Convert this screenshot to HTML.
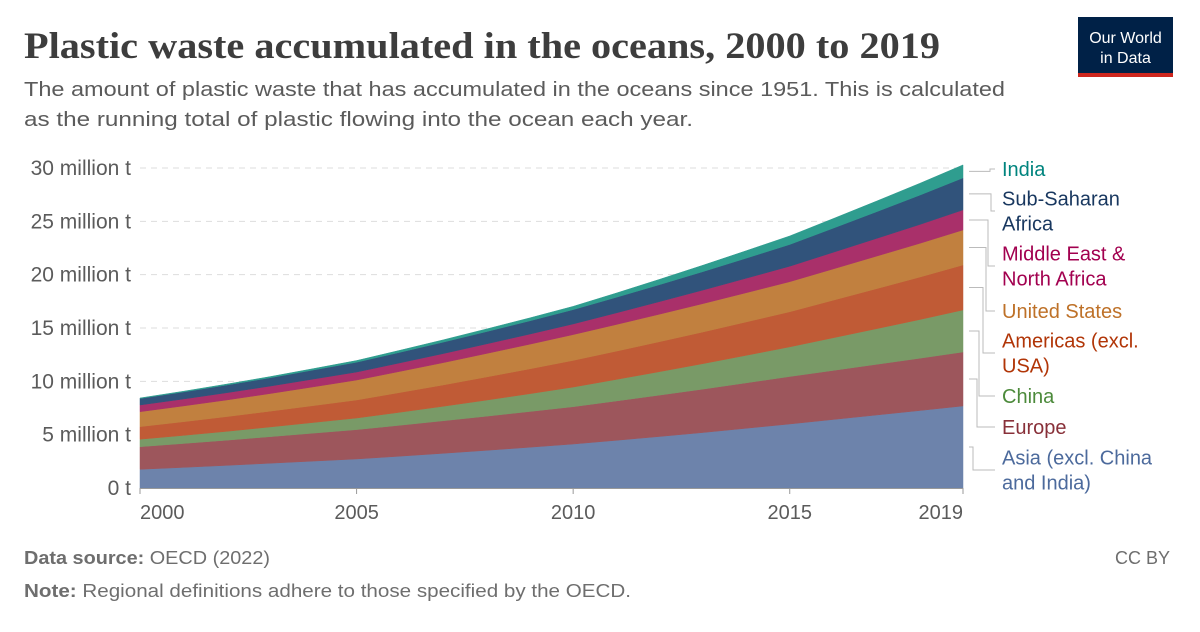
<!DOCTYPE html>
<html><head><meta charset="utf-8"><style>
body{margin:0;background:#fff;width:1200px;height:627px;overflow:hidden;font-family:"Liberation Sans",sans-serif}
</style></head><body>
<svg width="1200" height="627" xmlns="http://www.w3.org/2000/svg">
<text x="24" y="58" font-family="Liberation Serif,serif" font-size="37" font-weight="bold" fill="#3d3d3d" textLength="916" lengthAdjust="spacingAndGlyphs">Plastic waste accumulated in the oceans, 2000 to 2019</text>
<g>
<rect x="1078" y="17" width="95" height="60" fill="#002147"/>
<rect x="1078" y="73" width="95" height="4" fill="#ce261e"/>
<text x="1125.5" y="43" text-anchor="middle" font-size="16" fill="#fff">Our World</text>
<text x="1125.5" y="63" text-anchor="middle" font-size="16" fill="#fff">in Data</text>
</g>
<text x="24" y="96" font-size="20" fill="#5b5b5b" textLength="981" lengthAdjust="spacingAndGlyphs">The amount of plastic waste that has accumulated in the oceans since 1951. This is calculated</text>
<text x="24" y="126" font-size="20" fill="#5b5b5b" textLength="669" lengthAdjust="spacingAndGlyphs">as the running total of plastic flowing into the ocean each year.</text>
<g id="grid"></g><g id="areas"></g><g id="axes"></g><g id="legend"></g>
<text x="24" y="564" font-size="18" fill="#6e6e6e" textLength="246" lengthAdjust="spacingAndGlyphs"><tspan font-weight="bold">Data source:</tspan> OECD (2022)</text>
<text x="1170" y="564" text-anchor="end" font-size="18" fill="#6e6e6e">CC BY</text>
<text x="24" y="597" font-size="18" fill="#6e6e6e" textLength="607" lengthAdjust="spacingAndGlyphs"><tspan font-weight="bold">Note:</tspan> Regional definitions adhere to those specified by the OECD.</text>
</svg>
<script>
const years=[2000,2001,2002,2003,2004,2005,2006,2007,2008,2009,2010,2011,2012,2013,2014,2015,2016,2017,2018,2019];
const asia=[1.75,1.93,2.12,2.32,2.52,2.72,2.98,3.25,3.53,3.82,4.12,4.47,4.83,5.2,5.6,6.0,6.42,6.84,7.26,7.69];
const europe=[2.12,2.24,2.36,2.49,2.62,2.75,2.9,3.05,3.2,3.35,3.5,3.69,3.88,4.07,4.26,4.45,4.6,4.75,4.9,5.06];
const china=[0.70,0.76,0.83,0.91,1.0,1.09,1.22,1.36,1.51,1.67,1.84,2.02,2.2,2.39,2.58,2.78,3.06,3.34,3.63,3.94];
const americas=[1.18,1.28,1.38,1.48,1.58,1.69,1.85,2.0,2.17,2.33,2.5,2.65,2.81,2.97,3.13,3.29,3.52,3.75,3.98,4.22];
const usa=[1.40,1.48,1.56,1.65,1.76,1.87,1.98,2.09,2.2,2.31,2.42,2.5,2.58,2.66,2.74,2.82,2.93,3.05,3.16,3.28];
const mena=[0.63,0.65,0.68,0.70,0.73,0.75,0.8,0.85,0.9,0.95,1.0,1.09,1.18,1.27,1.36,1.45,1.56,1.66,1.77,1.88];
const ssa=[0.61,0.66,0.72,0.78,0.85,0.92,0.99,1.07,1.15,1.24,1.34,1.46,1.59,1.73,1.88,2.04,2.26,2.5,2.75,3.0];
const india=[0.05,0.07,0.09,0.11,0.13,0.16,0.19,0.22,0.25,0.28,0.31,0.4,0.5,0.6,0.7,0.8,0.9,1.0,1.11,1.22];
const yTicks=[0,5,10,15,20,25,30];
const yTickLabels=["0 t","5 million t","10 million t","15 million t","20 million t","25 million t","30 million t"];
const xTicks=[2000,2005,2010,2015,2019];
const NS="http://www.w3.org/2000/svg";
const x=v=>140+(v-2000)/19*823;
const y=v=>488-v*320/30;
function mk(tag,at,parent){const e=document.createElementNS(NS,tag);for(const k in at)e.setAttribute(k,at[k]);document.getElementById(parent).appendChild(e);return e;}
yTicks.forEach((t,i)=>{
 if(t>0){const l=mk('line',{x1:140,x2:963,y1:y(t),y2:y(t),stroke:'#ddd','stroke-dasharray':'6,5'},'grid');
 
 }
 const tx=mk('text',{x:131,y:y(t)+7,'text-anchor':'end','font-size':21,fill:'#5b5b5b'},'axes');tx.textContent=yTickLabels[i];
 
 
});
const series=[
 {n:'asia',d:asia,c:'#6d83ab',lc:'#4c6a9c',lab:['Asia (excl. China','and India)'],ly:470,ex:973},
 {n:'europe',d:europe,c:'#9d565c',lc:'#883039',lab:['Europe'],ly:427,ex:977},
 {n:'china',d:china,c:'#799a67',lc:'#4c8a3b',lab:['China'],ly:396,ex:979},
 {n:'americas',d:americas,c:'#c05b36',lc:'#b13507',lab:['Americas (excl.','USA)'],ly:353,ex:983},
 {n:'united-states',d:usa,c:'#c1803f',lc:'#be7128',lab:['United States'],ly:311,ex:986},
 {n:'mena',d:mena,c:'#a9306a',lc:'#a2004f',lab:['Middle East &','North Africa'],ly:266,ex:988},
 {n:'sub-saharan-africa',d:ssa,c:'#31537b',lc:'#18375f',lab:['Sub-Saharan','Africa'],ly:211,ex:991},
 {n:'india',d:india,c:'#2f9d8f',lc:'#00847e',lab:['India'],ly:169,ex:990}];
let base=years.map(()=>0);
series.forEach(s=>{
 const top=base.map((b,i)=>b+s.d[i]);
 let p='M'+years.map((yr,i)=>x(yr)+','+y(top[i])).join('L');
 for(let i=years.length-1;i>=0;i--)p+='L'+x(years[i])+','+y(base[i]);
 const a=mk('path',{d:p+'Z',fill:s.c,stroke:s.c,'stroke-width':0.5},'areas');
 
 
 const li=years.length-1, sy=(y(top[li])+y(base[li]))/2;
 const c=mk('polyline',{points:`969,${sy} ${s.ex},${sy} ${s.ex},${s.ly} 995,${s.ly}`,fill:'none',stroke:'#bbb','stroke-width':1},'legend');
 
 
 const n=s.lab.length, y0=s.ly-(n-1)*12.5+7;
 const t=mk('text',{x:1002,'font-size':20,fill:s.lc},'legend');
 
 
 s.lab.forEach((l,k)=>{const ts=document.createElementNS(NS,'tspan');ts.setAttribute('x',1002);ts.setAttribute('y',y0+k*25);ts.textContent=l;t.appendChild(ts);});
 base=top;
});
const ax=mk('line',{x1:140,x2:963,y1:488.5,y2:488.5,stroke:'#999'},'axes');


xTicks.forEach(t=>{
 const tk=mk('line',{x1:x(t),x2:x(t),y1:488,y2:494,stroke:'#999'},'axes');
 
 
 const anchor=t==2000?'start':(t==2019?'end':'middle');
 const tx=mk('text',{x:t==2000?140:(t==2019?963:x(t)),y:519,'text-anchor':anchor,'font-size':20,fill:'#5b5b5b'},'axes');tx.textContent=t;
 
 
});
</script>
</body></html>
